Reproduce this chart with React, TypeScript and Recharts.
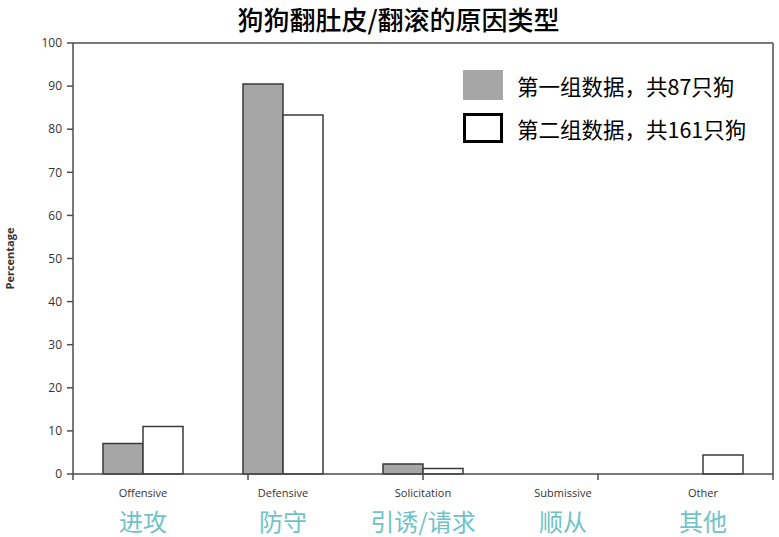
import React from 'react';
import { BarChart, Bar, XAxis, YAxis, ReferenceLine } from 'recharts';

// chart data
const categories = ['Offensive', 'Defensive', 'Solicitation', 'Submissive', 'Other'];
const categoriesZh = ['进攻', '防守', '引诱/请求', '顺从', '其他'];
const group1 = [7.1, 90.5, 2.3, 0, 0];
const group2 = [11.0, 83.3, 1.3, 0, 4.4];
const yTicks = [0, 10, 20, 30, 40, 50, 60, 70, 80, 90, 100];
const edgeTicks = [0, 1, 2, 3, 4, 5];
const seriesNames = ['第一组数据，共87只狗', '第二组数据，共161只狗'];
const title = '狗狗翻肚皮/翻滚的原因类型';

const data = categories.map((name, i) => ({
    name,
    zh: categoriesZh[i],
    g1: group1[i],
    g2: group2[i],
}));

const AXIS = '#4d4d4d';
const CJK = '"Noto Sans CJK SC", "Noto Sans", sans-serif';
const LATIN = '"Open Sans", "DejaVu Sans", sans-serif';

const CategoryTick = (props: any) => {
    const { x, y, payload, index } = props;
    return (
        <g>
            <text x={x} y={y + 14} textAnchor="middle" fontSize={11} fontFamily={LATIN} fill="#333">
                {payload.value}
            </text>
            <text x={x} y={y + 48} textAnchor="middle" fontSize={24} fontFamily={CJK} fill="#6fc3c7">
                {categoriesZh[index]}
            </text>
        </g>
    );
};

const LegendBox = () => (
    <div style={{ position: 'absolute', left: 463, top: 70, fontFamily: CJK, fontSize: 21.5, color: '#000' }}>
        <div style={{ display: 'flex', alignItems: 'center', height: 30, marginBottom: 13, whiteSpace: 'nowrap' }}>
            <div style={{ width: 40, height: 30, background: '#a6a6a6', marginRight: 14 }} />
            <span>{seriesNames[0]}</span>
        </div>
        <div style={{ display: 'flex', alignItems: 'center', height: 30, whiteSpace: 'nowrap' }}>
            <div style={{ width: 34, height: 24, border: '3px solid #000', background: '#fff', marginRight: 14 }} />
            <span>{seriesNames[1]}</span>
        </div>
    </div>
);

export default function App() {
    return (
        <div style={{ position: 'absolute', left: 0, top: 0, width: 779, height: 537, background: '#fff' }}>
            <BarChart
                width={779}
                height={537}
                data={data}
                margin={{ top: 43, right: 5, left: 0, bottom: 32 }}
                barGap={0}
                barSize={40}
            >
                <XAxis
                    xAxisId={0}
                    type="number"
                    domain={[0, 5]}
                    ticks={edgeTicks}
                    tick={false}
                    tickSize={6}
                    height={1}
                    axisLine={{ stroke: AXIS, strokeWidth: 1.5 }}
                    tickLine={{ stroke: AXIS, strokeWidth: 1.5 }}
                    allowDataOverflow
                />
                <XAxis
                    xAxisId={1}
                    dataKey="name"
                    height={30}
                    tickLine={false}
                    axisLine={false}
                    tick={<CategoryTick />}
                    interval={0}
                />
                <YAxis
                    domain={[0, 100]}
                    ticks={yTicks}
                    width={73}
                    tickSize={6}
                    tickMargin={5}
                    interval={0}
                    axisLine={{ stroke: AXIS, strokeWidth: 1.5 }}
                    tickLine={{ stroke: AXIS, strokeWidth: 1.5 }}
                    tick={{ fontSize: 12, fontFamily: LATIN, fill: '#333' }}
                    label={{
                        content: (p: any) => {
                            const vb = p.viewBox;
                            const cx = vb.x + 14;
                            const cy = vb.y + vb.height / 2;
                            return (
                                <text
                                    x={cx}
                                    y={cy}
                                    transform={`rotate(-90 ${cx} ${cy})`}
                                    textAnchor="middle"
                                    fontSize={11}
                                    fontWeight="bold"
                                    fontFamily={LATIN}
                                    fill="#333"
                                >
                                    Percentage
                                </text>
                            );
                        },
                    }}
                />
                <YAxis
                    yAxisId="right"
                    orientation="right"
                    width={1}
                    domain={[0, 100]}
                    tick={false}
                    tickLine={false}
                    axisLine={{ stroke: AXIS, strokeWidth: 1.5 }}
                />
                <ReferenceLine y={100} stroke={AXIS} strokeWidth={1.5} xAxisId={1} />
                {edgeTicks.map((b) => (
                    <ReferenceLine
                        key={`edge-${b}`}
                        xAxisId={0}
                        segment={[{ x: b, y: 0 }, { x: b, y: -1.4 }]}
                        ifOverflow="visible"
                        stroke={AXIS}
                        strokeWidth={1.5}
                    />
                ))}
                <Bar dataKey="g1" xAxisId={1} name={seriesNames[0]} fill="#a6a6a6" stroke="#3a3a3a" strokeWidth={1.5} isAnimationActive={false} />
                <Bar dataKey="g2" xAxisId={1} name={seriesNames[1]} fill="#ffffff" stroke="#3a3a3a" strokeWidth={1.5} isAnimationActive={false} />
            </BarChart>
            <div
                style={{
                    position: 'absolute', left: 0, width: 779, top: 0, textAlign: 'center',
                    fontFamily: CJK, fontSize: 26, fontWeight: 500, color: '#000', paddingLeft: 18,
                    boxSizing: 'border-box', lineHeight: 'normal', whiteSpace: 'nowrap',
                }}
            >
                {title}
            </div>
            <LegendBox />
        </div>
    );
}
